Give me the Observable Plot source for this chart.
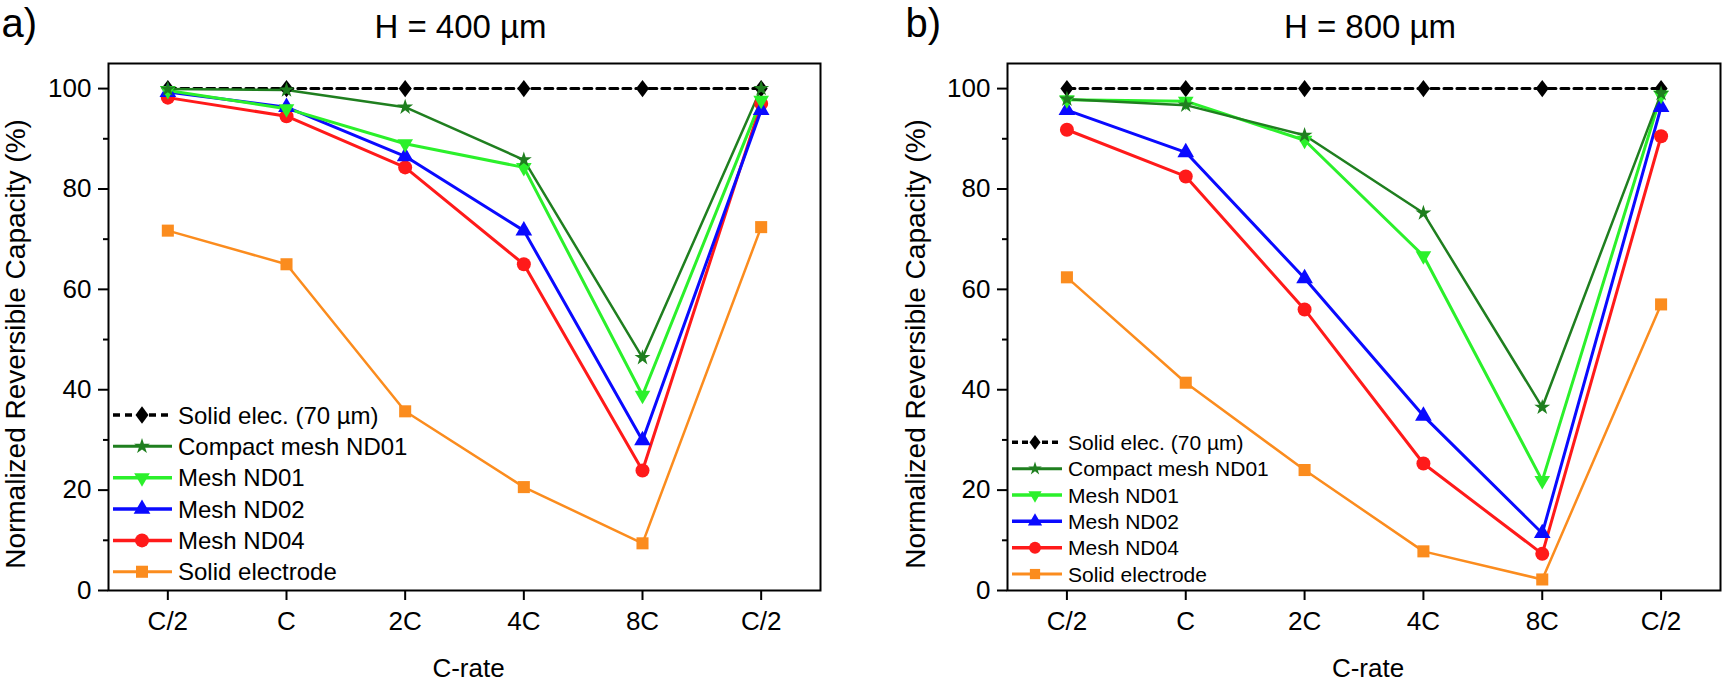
<!DOCTYPE html>
<html><head><meta charset="utf-8">
<script src="https://cdn.jsdelivr.net/npm/d3@7"></script>
<script src="https://cdn.jsdelivr.net/npm/@observablehq/plot@0.6"></script>
<style>
html,body{margin:0;padding:0;background:#fff;}
#wrap{display:flex;width:1724px;height:682px;overflow:hidden;}
#wrap svg{display:block;flex:none;}
</style></head><body><div id="wrap"></div>
<script>
// ---------- data ----------
const rates = ["C/2", "C", "2C", "4C", "8C", "C/2"];
const seriesNames = ["Solid elec. (70 µm)", "Compact mesh ND01", "Mesh ND01", "Mesh ND02", "Mesh ND04", "Solid electrode"];
const panelTitles = ["H = 400 µm", "H = 800 µm"];
const panelTags = ["a)", "b)"];
const xLabel = "C-rate";
const yLabel = "Normalized Reversible Capacity (%)";
const yTicks = [0, 20, 40, 60, 80, 100];
const yMinorTicks = [10, 30, 50, 70, 90];

// panel a: H = 400 µm
const aSolid70  = [100, 100, 100, 100, 100, 100];
const aCompact  = [99.9, 99.7, 96.3, 85.8, 46.4, 100];
const aMesh01   = [99.6, 96.0, 89.0, 84.3, 38.9, 97.7];
const aMesh02   = [99.3, 96.3, 86.5, 71.7, 29.9, 95.7];
const aMesh04   = [98.2, 94.5, 84.3, 65.0, 23.9, 97.0];
const aSolid    = [71.7, 65.0, 35.7, 20.6, 9.4, 72.4];

// panel b: H = 800 µm
const bSolid70  = [100, 100, 100, 100, 100, 100];
const bCompact  = [97.9, 96.7, 90.7, 75.2, 36.5, 99.0];
const bMesh01   = [97.8, 97.5, 89.7, 66.7, 21.9, 98.7];
const bMesh02   = [95.7, 87.3, 62.2, 34.8, 11.4, 96.3];
const bMesh04   = [91.8, 82.5, 56.0, 25.3, 7.3, 90.5];
const bSolid    = [62.4, 41.4, 24.0, 7.8, 2.2, 57.0];

// ---------- styles ----------
const FONT = "'Liberation Sans', Arial, Helvetica, sans-serif";
const triangleDown = {
  draw(ctx, size) {
    const y = Math.sqrt(size / (Math.sqrt(3) * 3));
    ctx.moveTo(0, 2 * y);
    ctx.lineTo(-Math.sqrt(3) * y, -y);
    ctx.lineTo(Math.sqrt(3) * y, -y);
    ctx.closePath();
  }
};
const diamondTall = {
  draw(ctx, size) {
    const h = Math.sqrt(size / 1.5), w = 0.75 * h;
    ctx.moveTo(0, -h); ctx.lineTo(w, 0); ctx.lineTo(0, h); ctx.lineTo(-w, 0); ctx.closePath();
  }
};
const styles = [
  {color: "#000000", symbol: diamondTall, r: 6, width: 3, dash: "8,5"},
  {color: "#1f7f1f", symbol: d3.symbolStar, r: 5, width: 2.5},
  {color: "#2bf02b", symbol: triangleDown, r: 5.8, width: 3},
  {color: "#0a0aff", symbol: d3.symbolTriangle, r: 6.2, width: 3},
  {color: "#ff1a1a", symbol: d3.symbolCircle, r: 7, width: 3},
  {color: "#fb8c1e", symbol: d3.symbolSquare, r: 6.8, width: 2.5}
];
const drawOrder = [0, 5, 4, 3, 2, 1];

function legendMark(cfg) {
  return (index, scales, values, dims) => {
    const g = d3.create("svg:g").attr("font-family", FONT).attr("text-anchor", "start");
    const yBase = dims.height - dims.marginBottom;
    const xBase = dims.marginLeft;
    styles.forEach((st, k) => {
      const y = yBase + cfg.y0 + k * cfg.step;
      g.append("line")
        .attr("x1", xBase + cfg.x0).attr("x2", xBase + cfg.x1)
        .attr("y1", y).attr("y2", y)
        .attr("stroke", st.color).attr("stroke-width", st.width + 0.5)
        .attr("stroke-dasharray", st.dash ? cfg.dash : null);
      g.append("path")
        .attr("transform", `translate(${xBase + cfg.xm},${y})`)
        .attr("d", d3.symbol(st.symbol, Math.PI * (st.r * cfg.s) ** 2)())
        .attr("fill", st.color);
      g.append("text")
        .attr("x", xBase + cfg.xt).attr("y", y).attr("dy", "0.36em")
        .attr("text-anchor", "start")
        .attr("font-size", cfg.fs).attr("fill", "#000")
        .text(seriesNames[k]);
    });
    return g.node();
  };
}

function panel(seriesValues, k, opt) {
  const marks = [];
  for (const s of drawOrder) {
    const st = styles[s];
    const rows = seriesValues[s].map((v, i) => ({i, v}));
    marks.push(Plot.line(rows, {x: "i", y: "v", stroke: st.color, strokeWidth: st.width,
      strokeDasharray: st.dash || null}));
  }
  for (const s of drawOrder) {
    const st = styles[s];
    const rows = seriesValues[s].map((v, i) => ({i, v}));
    marks.push(Plot.dot(rows, {x: "i", y: "v", symbol: st.symbol, r: st.r, fill: st.color, stroke: "none"}));
  }
  return Plot.plot({
    width: 862, height: 682,
    marginLeft: opt.ml, marginRight: opt.mr, marginTop: 63, marginBottom: 92,
    style: {fontFamily: FONT, color: "#000", background: "#fff", overflow: "visible"},
    x: {domain: [-0.5, rates.length - 0.5]},
    y: {domain: [0, 105]},
    marks: [
      ...marks,
      Plot.frame({stroke: "#000", strokeWidth: 2}),
      Plot.axisX({ticks: rates.map((d, i) => i), tickFormat: i => rates[i], tickSize: 10, tickPadding: 11,
        fontSize: 26, label: null, strokeWidth: 2}),
      Plot.axisY({ticks: yTicks, tickSize: 10, tickPadding: 7, fontSize: 26, label: null, strokeWidth: 2}),
      Plot.axisY({ticks: yMinorTicks, tickSize: 5, tickFormat: () => "", label: null, strokeWidth: 2}),
      Plot.text([yLabel], {text: d => d, frameAnchor: "left", textAnchor: "middle", lineAnchor: "middle",
        rotate: -90, dx: opt.ylx, dy: 17, fontSize: 28}),
      Plot.text([xLabel], {text: d => d, frameAnchor: "bottom", lineAnchor: "bottom", dx: 4, dy: 86, fontSize: 26}),
      Plot.text([panelTitles[k]], {text: d => d, frameAnchor: "top", lineAnchor: "bottom", dx: opt.tdx, dy: -26, fontSize: 33}),
      Plot.text([panelTags[k]], {text: d => d, frameAnchor: "top-left", textAnchor: "start", lineAnchor: "bottom",
        dx: opt.tagdx, dy: -27, fontSize: 40}),
      legendMark(opt.legend)
    ]
  });
}

const wrap = document.getElementById("wrap");
wrap.append(panel([aSolid70, aCompact, aMesh01, aMesh02, aMesh04, aSolid], 0, {
  ml: 108, mr: 42, ylx: -92, tdx: -4, tagdx: -107,
  legend: {x0: 5, x1: 64, xm: 34, xt: 70, y0: -175, step: 31.35, fs: 24, s: 1, dash: "7,5"}
}));
wrap.append(panel([bSolid70, bCompact, bMesh01, bMesh02, bMesh04, bSolid], 1, {
  ml: 145, mr: 4, ylx: -91, tdx: 6, tagdx: -102,
  legend: {x0: 5, x1: 55, xm: 28, xt: 61, y0: -147.7, step: 26.35, fs: 21, s: 0.85, dash: "6,4"}
}));
</script></body></html>
